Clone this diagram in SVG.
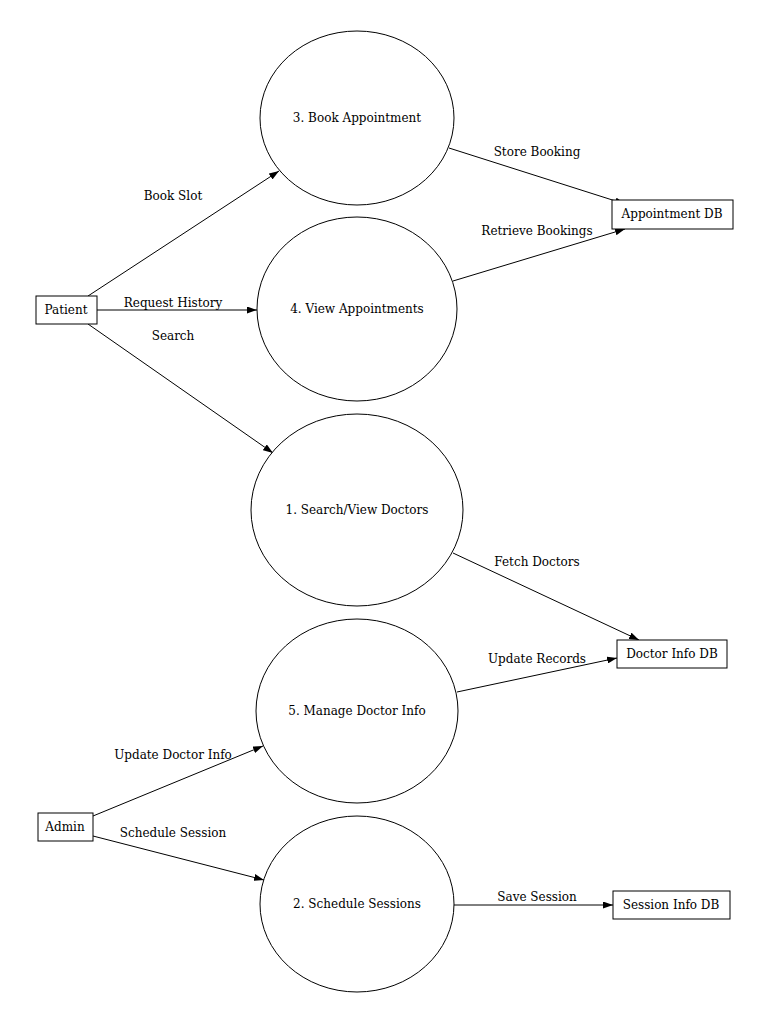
<svg xmlns="http://www.w3.org/2000/svg" width="768" height="1024" viewBox="0 0 768 1024">
<style>
text{font-family:"DejaVu Serif",serif;font-size:12px;fill:#000;text-anchor:middle}
.n{fill:#fff;stroke:#000;stroke-width:1}
.e{stroke:#000;stroke-width:1;fill:none;marker-end:url(#a)}
</style>
<defs><marker id="a" markerWidth="10" markerHeight="7" refX="10" refY="3.5" orient="auto" markerUnits="userSpaceOnUse"><path d="M0,0L10,3.5L0,7z" fill="#000"/></marker></defs>
<rect width="768" height="1024" fill="#fff"/>
<g id="connectors">
<line class="e" x1="88" y1="296" x2="279" y2="171"/><text x="173" y="200">Book Slot</text>
<line class="e" x1="97" y1="310" x2="257" y2="310"/><text x="173" y="307">Request History</text>
<line class="e" x1="88" y1="324" x2="273" y2="453"/><text x="173" y="340">Search</text>
<line class="e" x1="449" y1="148" x2="625" y2="204"/><text x="537" y="156">Store Booking</text>
<line class="e" x1="453" y1="281" x2="625" y2="229"/><text x="537" y="235">Retrieve Bookings</text>
<line class="e" x1="453" y1="553" x2="639" y2="640"/><text x="537" y="566">Fetch Doctors</text>
<line class="e" x1="457" y1="692" x2="617" y2="658"/><text x="537" y="663">Update Records</text>
<line class="e" x1="93" y1="816" x2="263" y2="746"/><text x="173" y="759">Update Doctor Info</text>
<line class="e" x1="93" y1="836" x2="264" y2="880"/><text x="173" y="837">Schedule Session</text>
<line class="e" x1="454" y1="905" x2="613" y2="905"/><text x="537" y="901">Save Session</text>
</g>
<g id="p3"><ellipse class="n" cx="357" cy="118" rx="97" ry="87"/><text x="357" y="122">3. Book Appointment</text></g>
<g id="p4"><ellipse class="n" cx="357" cy="309" rx="100" ry="92"/><text x="357" y="313">4. View Appointments</text></g>
<g id="p1"><ellipse class="n" cx="357" cy="510" rx="106" ry="96"/><text x="357" y="514">1. Search/View Doctors</text></g>
<g id="p5"><ellipse class="n" cx="357" cy="711" rx="101" ry="92"/><text x="357" y="715">5. Manage Doctor Info</text></g>
<g id="p2"><ellipse class="n" cx="357" cy="904" rx="97" ry="88"/><text x="357" y="908">2. Schedule Sessions</text></g>
<g id="patient"><rect class="n" x="36" y="296" width="61" height="28"/><text x="66" y="314">Patient</text></g>
<g id="admin"><rect class="n" x="38" y="813" width="55" height="28"/><text x="65" y="831">Admin</text></g>
<g id="apptdb"><rect class="n" x="612" y="200" width="121" height="29"/><text x="672" y="218">Appointment DB</text></g>
<g id="docdb"><rect class="n" x="617" y="640" width="110" height="28"/><text x="672" y="658">Doctor Info DB</text></g>
<g id="sessdb"><rect class="n" x="613" y="891" width="117" height="28"/><text x="671" y="909">Session Info DB</text></g>
</svg>
